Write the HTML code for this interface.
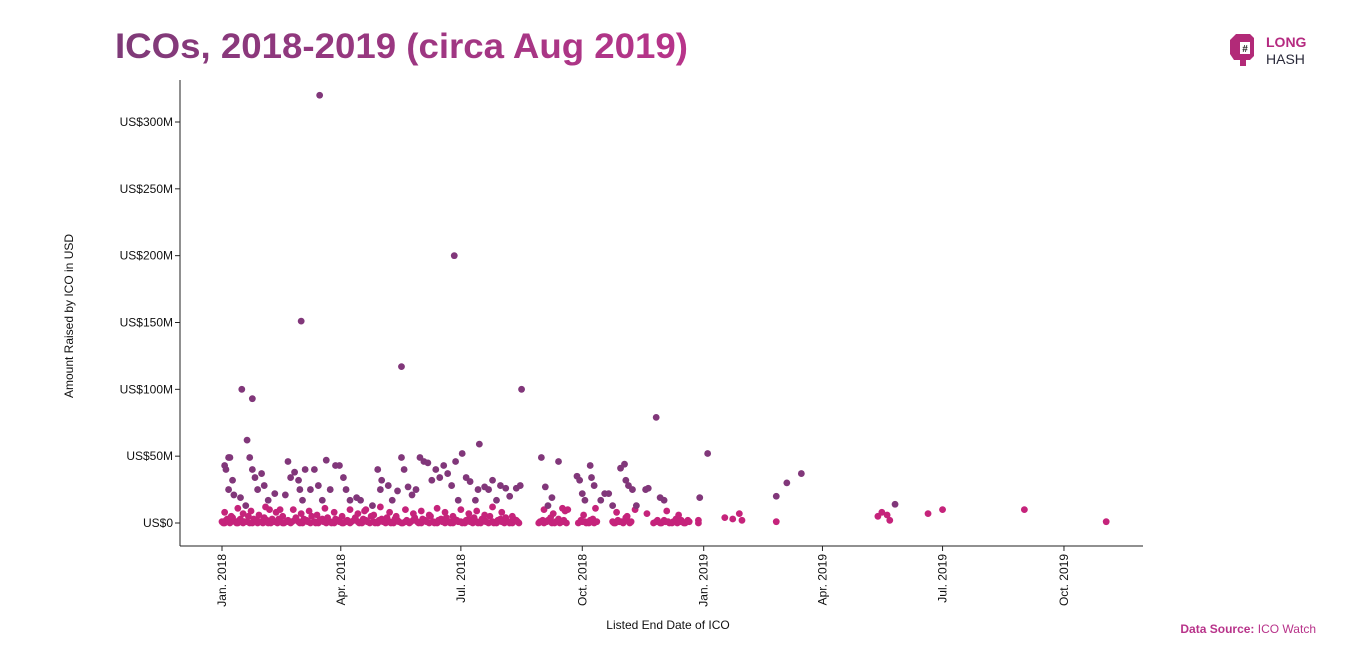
<!DOCTYPE html>
<html><head><meta charset="utf-8"><style>
html,body{margin:0;padding:0;background:#fff;width:1366px;height:650px;overflow:hidden}
svg{display:block;font-family:"Liberation Sans",sans-serif}
</style></head><body>
<svg id="chart" width="1366" height="650" viewBox="0 0 1366 650">
<defs><linearGradient id="tg" x1="0" x2="1" y1="0" y2="0"><stop offset="0" stop-color="#7e3a78"/><stop offset="1" stop-color="#b8348a"/></linearGradient></defs>
<text x="115" y="58" font-size="35" font-weight="bold" fill="url(#tg)" textLength="573" lengthAdjust="spacingAndGlyphs">ICOs, 2018-2019 (circa Aug 2019)</text>
<g>
<path d="M1230 40 l6-6 h14 l4 4 v18 l-4 4 h-4 v6 h-6 v-6 h-6 l-4-6 z" fill="#b22a78"/>
<rect x="1240" y="42" width="10" height="12" fill="#fff"/>
<text x="1245" y="52" font-size="10" font-weight="bold" fill="#222" text-anchor="middle">#</text>
<text x="1266" y="47" font-size="14" font-weight="bold" fill="#b52a80">LONG</text>
<text x="1266" y="64" font-size="14" fill="#2a2a3a">HASH</text>
</g>
<g id="axes"></g>
<g id="points"></g>
<text transform="translate(73,316) rotate(-90)" font-size="12" text-anchor="middle" fill="#111">Amount Raised by ICO in USD</text>
<text x="668" y="629" font-size="12" text-anchor="middle" fill="#111">Listed End Date of ICO</text>
<text x="1316" y="633" font-size="12" text-anchor="end" fill="#b8338a"><tspan font-weight="bold">Data Source:</tspan> ICO Watch</text>
</svg>
<script>
const yTickValues=[0,50,100,150,200,250,300];
const yTickLabels=["US$0","US$50M","US$100M","US$150M","US$200M","US$250M","US$300M"];
const xTickDays=[0,90,181,273,365,455,546,638];
const xTickLabels=["Jan. 2018","Apr. 2018","Jul. 2018","Oct. 2018","Jan. 2019","Apr. 2019","Jul. 2019","Oct. 2019"];
const outlierIcos=[[74,320],[60,151],[176,200],[136,117],[227,100],[15,100],[23,93],[19,62],[329,79],[368,52],[195,59],[182,52],
[420,1],[420,20],[428,30],[439,37],[497,5],[500,8],[504,6],[506,2],[510,14],[535,7],[546,10],[608,10],[670,1],
[362,19],[361,2],[381,4],[387,3],[392,7],[394,2]];
const upperIcos=[[2,43],[3,40],[5,49],[6,49],[8,32],[5,25],[9,21],[14,19],[18,13],[21,49],[23,40],[25,34],[27,25],[30,37],[32,28],[35,17],[36,10],[40,22],[44,10],[48,21],[50,46],[52,34],[55,38],[58,32],[59,25],[61,17],[63,40],[67,25],[70,40],[73,28],[76,17],[79,47],[82,25],[86,43],[89,43],[92,34],[94,25],[97,17],[102,19],[105,17],[109,10],[114,13],[118,40],[120,25],[121,32],[126,28],[129,17],[133,24],[136,49],[138,40],[141,27],[144,21],[147,25],[150,49],[153,46],[156,45],[159,32],[162,40],[165,34],[168,43],[171,37],[174,28],[177,46],[179,17],[185,34],[188,31],[192,17],[194,25],[199,27],[202,25],[205,32],[208,17],[211,28],[215,26],[218,20],[223,26],[226,28],[242,49],[245,27],[247,13],[250,19],[255,46],[258,11],[262,10],[269,35],[271,32],[273,22],[275,17],[279,43],[280,34],[282,28],[287,17],[290,22],[293,22],[296,13],[302,41],[305,44],[306,32],[308,28],[311,25],[314,13],[321,25],[323,26],[332,19],[335,17]];
const midIcos=[[2,8],[7,5],[12,11],[16,7],[22,9],[28,6],[33,12],[41,8],[46,5],[54,10],[60,7],[66,9],[72,6],[78,11],[85,8],[91,5],[97,10],[103,7],[108,9],[115,6],[120,12],[127,8],[132,5],[139,10],[145,7],[151,9],[157,6],[163,11],[169,8],[175,5],[181,10],[187,7],[193,9],[199,6],[205,12],[212,8],[220,5],[244,10],[251,7],[260,9],[274,6],[283,11],[299,8],[307,5],[313,10],[322,7],[337,9],[346,6]];
const lowIcos=[[1,0],[3,2],[5,1],[8,4],[11,0],[14,3],[17,1],[20,5],[23,0],[26,2],[29,1],[32,4],[35,0],[38,3],[44,1],[47,0],[50,2],[53,1],[56,4],[59,0],[62,3],[65,1],[68,5],[71,0],[74,2],[77,1],[80,4],[83,0],[86,3],[89,1],[92,0],[95,2],[98,1],[101,4],[104,0],[107,3],[110,1],[113,5],[116,0],[119,2],[122,1],[125,4],[128,0],[131,3],[134,1],[137,0],[140,2],[143,1],[146,4],[149,0],[152,3],[155,1],[158,5],[161,0],[164,2],[167,1],[170,4],[173,0],[176,3],[179,1],[182,0],[185,2],[188,1],[191,4],[194,0],[197,3],[200,1],[203,5],[206,0],[209,2],[212,1],[215,4],[218,0],[221,3],[224,1],[240,0],[243,2],[246,1],[249,4],[252,0],[255,3],[258,1],[261,0],[272,2],[275,1],[278,0],[281,3],[284,1],[297,0],[300,2],[303,1],[306,4],[309,0],[329,1],[332,0],[335,2],[338,1],[341,0],[344,3],[347,1],[350,0],[353,2],[361,0]];
const lowIcosExtra=[[0,1],[2,0],[4,3],[6,0],[7,2],[10,1],[12,0],[13,2],[16,0],[19,1],[21,0],[24,3],[27,0],[28,1],[31,0],[34,2],[37,0],[40,1],[42,0],[43,3],[46,0],[49,1],[52,0],[55,2],[58,1],[61,0],[64,2],[67,0],[70,1],[73,0],[76,3],[79,0],[82,1],[85,0],[88,2],[91,0],[94,1],[97,0],[100,2],[103,1],[106,0],[109,2],[112,0],[115,1],[118,0],[121,3],[124,0],[127,1],[130,0],[133,2],[136,0],[139,1],[142,0],[145,2],[148,1],[151,0],[154,2],[157,0],[160,1],[163,0],[166,3],[169,0],[172,1],[175,0],[178,2],[181,1],[184,0],[187,3],[190,0],[193,1],[196,0],[199,2],[202,0],[205,1],[208,0],[211,3],[214,0],[217,1],[220,0],[223,2],[225,0],[241,1],[244,0],[247,2],[250,0],[253,1],[256,0],[259,2],[270,0],[273,1],[276,0],[279,2],[282,0],[296,1],[298,0],[301,1],[304,0],[307,2],[310,1],[327,0],[330,2],[333,0],[336,1],[339,0],[342,1],[345,0],[348,2],[351,0],[354,1]];
const NS="http://www.w3.org/2000/svg";
const X0=222,PXDAY=1.3197,Y0=523,PXM=1.3367;
function xs(d){return X0+d*PXDAY;}
function ys(v){return Y0-v*PXM;}
const axes=document.getElementById('axes');
function mk(tag,attrs,parent){const e=document.createElementNS(NS,tag);for(const k in attrs)e.setAttribute(k,attrs[k]);parent.appendChild(e);return e;}
const yl=mk('line',{x1:180,y1:80,x2:180,y2:546,stroke:'#222','stroke-width':1},axes);


const xl=mk('line',{x1:180,y1:546,x2:1143,y2:546,stroke:'#222','stroke-width':1},axes);


yTickValues.forEach((v,i)=>{
  const y=ys(v);
  mk('line',{x1:175,y1:y,x2:180,y2:y,stroke:'#222'},axes);
  const t=mk('text',{x:173,y:y+4,'font-size':12,'text-anchor':'end',fill:'#111'},axes);
  t.textContent=yTickLabels[i];
  
  
});
xTickDays.forEach((d,i)=>{
  const x=xs(d);
  mk('line',{x1:x,y1:546,x2:x,y2:551,stroke:'#222'},axes);
  const t=mk('text',{transform:`translate(${x+4},554) rotate(-90)`,'font-size':12,'text-anchor':'end',fill:'#111'},axes);
  t.textContent=xTickLabels[i];
  
  
});
const pts=document.getElementById('points');
[lowIcosExtra,lowIcos,midIcos,upperIcos,outlierIcos].forEach(group=>{
  group.forEach(p=>{
    const c=mk('circle',{cx:xs(p[0]),cy:ys(p[1]),r:3.4,fill:p[1]<=12?'#c5237b':'#81377a'},pts);
    
    
  });
});
</script>
</body></html>
